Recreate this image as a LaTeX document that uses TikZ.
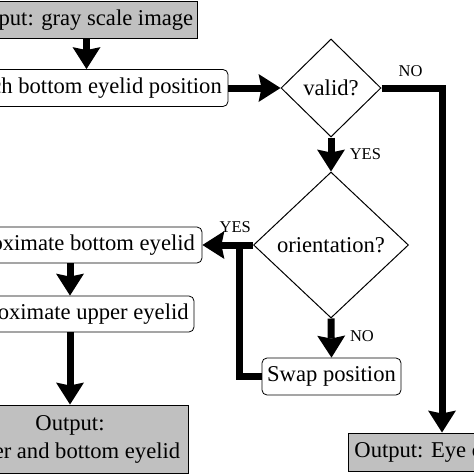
\documentclass[tikz,border=0pt]{standalone}
\usepackage{fontspec}
\setmainfont{Liberation Serif}
\usepackage{tikz}
\usetikzlibrary{
	arrows.meta,
	positioning,
	shapes.geometric
}
\definecolor{BoxGray}{RGB}{192,192,192}

\begin{document}
\begin{tikzpicture}[x=1pt, y=-1pt,
		box/.style={draw, line width=0.8pt, rounded corners=5pt, fill=white, inner sep=0pt,
			minimum height=37pt, font=\fontsize{22.6}{28}\selectfont},
		iobox/.style={draw, line width=1pt, fill=BoxGray, inner sep=0pt, align=center,
			font=\fontsize{22.6}{28}\selectfont},
		decision/.style={diamond, draw, line width=1pt, inner sep=0pt, font=\fontsize{22.6}{28}\selectfont},
		flow/.style={line width=7pt},
		flowarrow/.style={flow, -{Stealth[length=22pt, width=28pt, inset=3pt, line width=0pt]}},
		lbl/.style={font=\fontsize{16.5}{18}\selectfont}]
		
		% 先裁剪超出范围的部分
		\useasboundingbox (0,0) rectangle (474,474);
		\clip (0,0) rectangle (474,474);
		
		\coordinate (turn) at (239,245);
		
		% 左列
		\node[iobox, minimum width=221pt, minimum height=37pt] (in) at (86.5,20) {Input: gray scale image};
		\node[box, minimum width=283pt] (search) at (86.5,88) {Search bottom eyelid position};
		\node[box, minimum width=264pt, minimum height=36pt] (approxb) at (70,245) {Approximate bottom eyelid};
		\node[box, minimum width=248pt, minimum height=36pt] (approxu) at (70,314) {Approximate upper eyelid};
		\node[iobox, minimum width=236pt, minimum height=68pt] (outl) at (70,439) {Output:\\upper and bottom eyelid};
		
		% 右列
		\node[decision, minimum width=100pt, minimum height=98pt] (valid) at (331,88) {valid?};
		\node[decision, minimum width=155pt, minimum height=146pt] (orient) at (331,245) {orientation?};
		\node[box, minimum width=139pt] (swap) at (331.5,376.5) {Swap position};
		\node[iobox, minimum width=188pt, minimum height=38pt] (outr) at (442,452) {Output: Eye closed};
		
		\draw[flowarrow] (in) -- (search);
		\draw[flowarrow] (search.east) -- (valid.west);
		\draw[flowarrow] (valid.east) -| node[lbl, pos=0.24, above=5pt] {NO} (outr.north);
		\draw[flowarrow] (valid.south) -- node[lbl, right=12pt] {YES} (orient.north);
		\draw[flowarrow] (orient.south) -- node[lbl, right=12pt, pos=0.45] {NO} (swap.north);
		\draw[flowarrow] (orient.west) -- node[lbl, pos=0.35, above=6pt] {YES} (approxb.east);
		\draw[flow] (swap.west) -| (turn);
		\draw[flowarrow] (approxb) -- (approxu);
		\draw[flowarrow] (approxu) -- (outl);
	\end{tikzpicture}
\end{document}
